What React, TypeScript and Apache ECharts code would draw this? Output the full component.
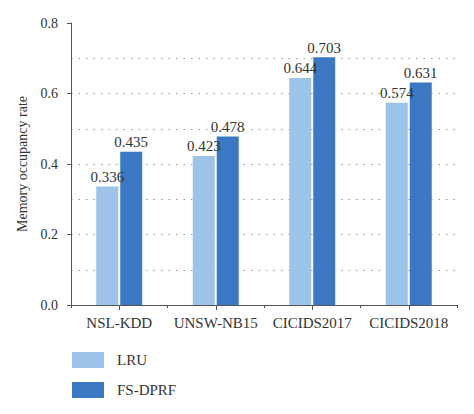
import React, { useEffect, useRef } from "react";
import * as echarts from "echarts";

const categories = ["NSL-KDD", "UNSW-NB15", "CICIDS2017", "CICIDS2018"];
const lruValues = [0.336, 0.423, 0.644, 0.574];
const fsdprfValues = [0.435, 0.478, 0.703, 0.631];
const seriesNames = ["LRU", "FS-DPRF"];

const FONT = "Liberation Serif";

export default function App() {
  const ref = useRef<HTMLDivElement>(null);
  useEffect(() => {
    if (!ref.current) return;
    const chart = echarts.init(ref.current, null, { renderer: "svg" });
    const labelCfg = {
      show: true,
      position: "top" as const,
      distance: 2,
      color: "#333",
      fontFamily: FONT,
      fontSize: 15,
      formatter: (p: any) => p.value.toFixed(3),
    };
    chart.setOption({
      animation: false,
      textStyle: { fontFamily: FONT },
      grid: { left: 71, right: 17, top: 23, bottom: 109 },
      legend: {
        orient: "vertical",
        left: 67,
        top: 347,
        padding: 5,
        itemWidth: 32,
        itemHeight: 16,
        itemGap: 14,
        icon: "rect",
        formatter: (name: string) => "{a|" + name + "}",
        textStyle: {
          fontFamily: FONT,
          fontSize: 15,
          color: "#333",
          rich: { a: { fontFamily: FONT, fontSize: 15, color: "#333", padding: [0, 0, 0, 8] } },
        },
        data: seriesNames,
      },
      xAxis: [
        {
          type: "category",
          data: categories,
          axisLine: { lineStyle: { color: "#555", width: 1 } },
          axisTick: { show: true, interval: 0, length: 3, lineStyle: { color: "#555" } },
          axisLabel: { color: "#333", fontFamily: FONT, fontSize: 15, margin: 10, interval: 0 },
        },
        {
          type: "category",
          data: categories,
          position: "bottom",
          axisLine: { show: false },
          axisTick: { show: true, alignWithLabel: true, interval: 0, length: 5, lineStyle: { color: "#555" } },
          axisLabel: { show: false },
        },
      ],
      yAxis: {
        type: "value",
        min: 0,
        max: 0.8,
        interval: 0.2,
        name: "Memory occupancy rate",
        nameLocation: "middle",
        nameGap: 41,
        nameTextStyle: { fontFamily: FONT, fontSize: 14, color: "#333" },
        axisLine: { show: true, lineStyle: { color: "#555", width: 1 } },
        axisTick: { show: true, length: 4, lineStyle: { color: "#555" } },
        axisLabel: {
          color: "#333",
          fontFamily: FONT,
          fontSize: 14,
          margin: 13,
          formatter: (v: number) => v.toFixed(1),
        },
        splitLine: {
          show: true,
          showMinLine: false,
          showMaxLine: false,
          lineStyle: { color: "#999", type: [1.5, 6], width: 1 },
        },
        minorTick: { show: false, splitNumber: 2 },
        minorSplitLine: {
          show: true,
          lineStyle: { color: "#999", type: [1.5, 6], width: 1 },
        },
      },
      series: [
        {
          name: seriesNames[0],
          type: "bar",
          data: lruValues,
          barWidth: 22,
          barGap: "9%",
          itemStyle: { color: "#9DC3E8" },
          label: labelCfg,
        },
        {
          name: seriesNames[1],
          type: "bar",
          data: fsdprfValues,
          barWidth: 22,
          barGap: "9%",
          itemStyle: { color: "#3A78C3" },
          label: labelCfg,
        },
      ],
    });
    return () => chart.dispose();
  }, []);
  return <div ref={ref} style={{ width: 474, height: 414, position: "absolute", left: 0, top: 0 }} />;
}
